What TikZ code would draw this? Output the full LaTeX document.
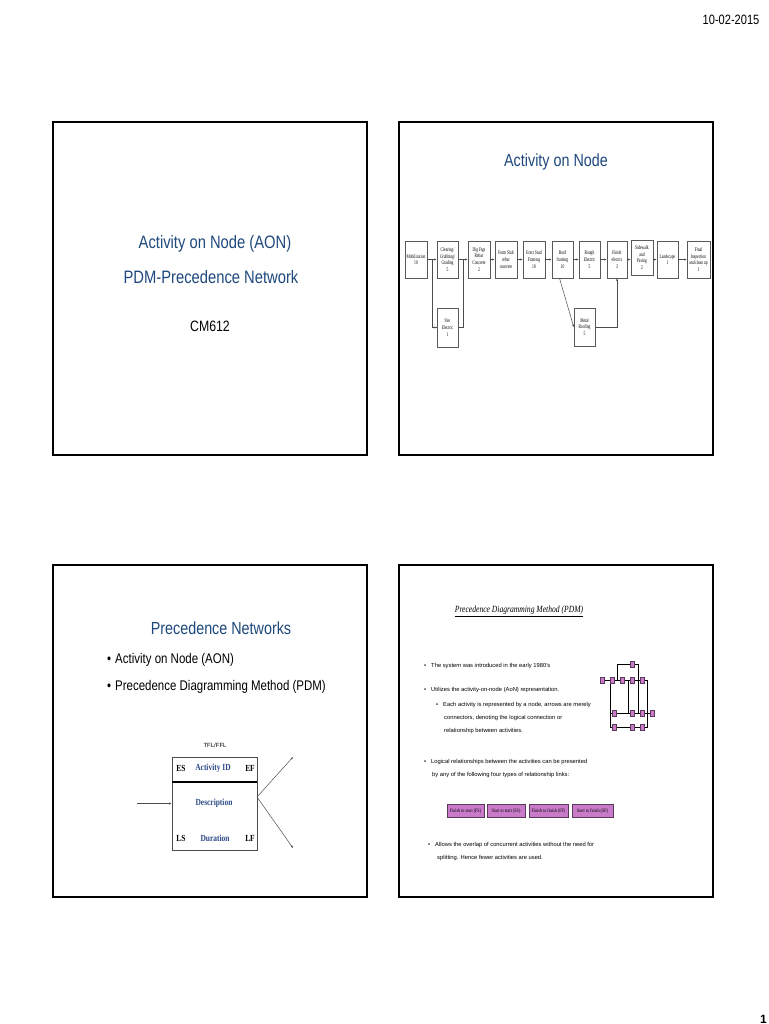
\documentclass[tikz,border=0pt]{standalone}
\usepackage{fontspec}
\setmainfont{Liberation Serif}
\newfontfamily\nsans[FakeStretch=0.82]{Liberation Sans}
\newfontfamily\rsans{Liberation Sans}
\newfontfamily\nserif[FakeStretch=0.8]{Liberation Serif}
\newfontfamily\tserif[FakeStretch=0.65]{Liberation Serif}
\usetikzlibrary{arrows.meta,calc}
\definecolor{ttlblue}{HTML}{1F497D}
\definecolor{boxblue}{HTML}{2B4A86}
\definecolor{pdmpurple}{HTML}{C97BC9}
\definecolor{pdmborder}{HTML}{5A3A5A}
\begin{document}
\begin{tikzpicture}[x=1pt,y=-1pt,
  slideframe/.style={draw=black,line width=1.3pt},
  ttl/.style={font=\nsans\fontsize{17.5}{21}\selectfont,text=ttlblue,inner sep=0pt},
  aon/.style={draw=gray!70!black,line width=0.5pt,fill=white,minimum width=21pt,minimum height=37pt,inner sep=0pt,align=center,font=\tserif\fontsize{5.6}{6.8}\selectfont},
  conn/.style={draw=gray!60!black,line width=0.5pt},
  arr/.style={conn,-{Latex[length=2.4pt,width=2.2pt]}},
  cell/.style={font=\nserif\bfseries\fontsize{9.3}{11}\selectfont,inner sep=0pt},
  bul/.style={anchor=west,inner sep=0pt,font=\nsans\fontsize{14}{16}\selectfont},
  small/.style={anchor=west,inner sep=0pt,font=\rsans\fontsize{5.8}{6.8}\selectfont},
  btn/.style={draw=pdmborder,fill=pdmpurple,line width=0.6pt,minimum height=13pt,inner sep=0pt,font=\nserif\fontsize{5.2}{6}\selectfont},
  mnode/.style={draw=pdmborder,fill=pdmpurple,line width=0.4pt,minimum width=4.5pt,minimum height=5.5pt,inner sep=0pt},
  mline/.style={draw=black,line width=0.6pt}
]
\useasboundingbox (0,0) rectangle (768,1024);
\fill[white] (0,0) rectangle (768,1024);

% header / footer
\node[font=\nsans\fontsize{13.5}{15}\selectfont,inner sep=0pt] (date) at (731,20) {10-02-2015};
\node[font=\rsans\bfseries\fontsize{12}{14}\selectfont,anchor=east,inner sep=0pt] (pg) at (767,1019) {1};

% slide frames
\draw[slideframe] (53,122) rectangle (367,455);
\draw[slideframe] (399,122) rectangle (713,455);
\draw[slideframe] (53,565) rectangle (367,897);
\draw[slideframe] (399,565) rectangle (713,897);

% ---------- slide 1
\node[ttl,font=\nsans\fontsize{18}{21}\selectfont] (t1a) at (215,244) {Activity on Node (AON)};
\node[ttl,font=\nsans\fontsize{18}{21}\selectfont] (t1b) at (211,277) {PDM-Precedence Network};
\node[font=\nsans\fontsize{15}{17}\selectfont,inner sep=0pt] (cm) at (210,326) {CM612};

% ---------- slide 2
\node[ttl] (t2) at (556,162) {Activity on Node};
\node[aon,minimum width=22pt] (mob) at (416,259.5) {Mobilization\\10};
\node[aon] (clr) at (447.5,259.5) {Clearing/\\Grubbing/\\Grading\\5};
\node[aon,minimum width=22pt] (dig) at (479,259.5) {Dig Ftgs\\Rebar\\Concrete\\2};
\node[aon,minimum width=22pt] (form) at (506,259.5) {Form Slab\\rebar\\concrete};
\node[aon,minimum width=22pt] (erect) at (534,259.5) {Erect Stud\\Framing\\10};
\node[aon] (roof) at (562.5,259.5) {Roof\\framing\\10};
\node[aon] (rough) at (589.5,259.5) {Rough\\Electric\\5};
\node[aon,minimum width=20pt] (fin) at (617,259.5) {Finish\\electric\\3};
\node[aon,minimum width=22pt,minimum height=35pt] (side) at (642,257.5) {Sidewalk\\and\\Paving\\2};
\node[aon] (land) at (667.5,259.5) {Landscape\\1};
\node[aon,minimum width=23pt] (final) at (698.5,259.5) {Final\\Inspection\\and clean up\\1};
\node[aon,minimum height=39pt] (site) at (447.5,327.5) {Site\\Electric\\1};
\node[aon,minimum height=38pt] (metal) at (584.5,327) {Metal\\Roofing\\5};

\coordinate (j1) at ($(mob.east)+(5,0)$);
\coordinate (j2) at ($(dig.west)+(-5,0)$);
\draw[arr] (mob) -- (clr);
\draw[conn] (j1) |- (site.west);
\draw[arr] (j1 |- site.west) -- (site.west);
\draw[arr] (clr) -- (dig);
\draw[conn] (site.east) -| (j2);
\draw[arr] (dig) -- (form);
\draw[arr] (form) -- (erect);
\draw[arr] (erect) -- (roof);
\draw[arr] (roof) -- (rough);
\draw[arr] (rough) -- (fin);
\draw[arr] (fin) -- (side.west |- fin.east);
\draw[arr] (side.east |- land.west) -- (land);
\draw[arr] (land) -- (final);
\draw[arr] ($(roof.south)+(-3,0)$) -- (metal.west);
\draw[arr] (metal.east) -| (fin.south);

% ---------- slide 3
\node[ttl] (t3) at (221,628) {Precedence Networks};
\node[bul] (b1) at (107,660) {•\hspace{4pt}Activity on Node (AON)};
\node[bul] (b2) at (107,687) {•\hspace{4pt}Precedence Diagramming Method (PDM)};
\node[font=\rsans\fontsize{6}{7}\selectfont,inner sep=0pt] (tfl) at (215,745) {TFL/FFL};
\node[draw=gray!60!black,line width=0.8pt,minimum width=85pt,minimum height=93pt,inner sep=0pt] (act) at (214.5,803.5) {};
\coordinate (dl) at (172,782);
\coordinate (dr) at (257,782);
\draw[line width=1.3pt] (dl) -- (dr);
\node[cell] (es) at (181,768) {ES};
\node[cell,text=boxblue] (aid) at (213,768) {Activity ID};
\node[cell] (ef) at (250,768) {EF};
\node[cell,text=boxblue] (desc) at (214,803) {Description};
\node[cell] (ls) at (181,838) {LS};
\node[cell,text=boxblue] (dur) at (215,838) {Duration};
\node[cell] (lf) at (250,838) {LF};
\coordinate (ain) at (137,803.5);
\draw[arr] (ain) -- (act.west);
\coordinate (ao) at (257,797);
\coordinate (aup) at (293,757);
\coordinate (adn) at (293,848);
\draw[arr] (ao) -- (aup);
\draw[arr] (ao) -- (adn);

% ---------- slide 4
\node[inner sep=0pt,font=\nserif\itshape\fontsize{9.5}{11}\selectfont] (t4) at (519,611) {\underline{Precedence Diagramming Method (PDM)}};
\node[small] (p1) at (424,666) {•\hspace{5pt}The system was introduced in the early 1980’s};
\node[small] (p2) at (424,690) {•\hspace{5pt}Utilizes the activity-on-node (AoN) representation.};
\node[small] (p3) at (436,705) {•\hspace{5pt}Each activity is represented by a node, arrows are merely};
\node[small] (p4) at (444,718) {connectors, denoting the logical connection or};
\node[small] (p5) at (444,731) {relationship between activities.};
\node[small] (p6) at (424,762) {•\hspace{5pt}Logical relationships between the activities can be presented};
\node[small] (p7) at (432,775) {by any of the following four types of relationship links:};
\node[small] (p8) at (428,845) {•\hspace{5pt}Allows the overlap of concurrent activities without the need for};
\node[small] (p9) at (437,858) {splitting. Hence fewer activities are used.};

\node[btn,minimum width=37pt] (fs) at (465.5,811) {Finish to start (FS)};
\node[btn,minimum width=38pt] (ss) at (506,811) {Start to start (SS)};
\node[btn,minimum width=39pt] (ff) at (548.5,811) {Finish to finish (FF)};
\node[btn,minimum width=41pt] (sf) at (592.5,811) {Start to finish (SF)};

% mini network
\coordinate (c1) at (617,664);
\coordinate (c2) at (638,664);
\coordinate (v1) at (610,680);
\coordinate (v2) at (628,680);
\coordinate (v3) at (638,680);
\coordinate (v4) at (647,680);
\draw[mline] (602,680) -- (642,680);
\draw[mline] (617,680) -- (c1) -- (632,664);
\draw[mline] (632,664) -- (c2) -- (v3);
\draw[mline] (v1) -- (610,727) -- (614,727);
\draw[mline] (610,713) -- (614,713);
\draw[mline] (v2) -- (628,713);
\draw[mline] (v3) -- (638,713);
\draw[mline] (642,680) -- (v4) -- (647,727) -- (642,727);
\draw[mline] (614,713) -- (652,713);
\draw[mline] (614,727) -- (642,727);
\node[mnode] (t) at (632,664) {};
\node[mnode] (r1a) at (602,680) {};
\node[mnode] (r1b) at (612,680) {};
\node[mnode] (r1c) at (622,680) {};
\node[mnode] (r1d) at (632,680) {};
\node[mnode] (r1e) at (642,680) {};
\node[mnode] (r2a) at (614,713) {};
\node[mnode] (r2b) at (632,713) {};
\node[mnode] (r2c) at (642,713) {};
\node[mnode] (r2d) at (652,713) {};
\node[mnode] (r3a) at (614,727) {};
\node[mnode] (r3b) at (632,727) {};
\node[mnode] (r3c) at (642,727) {};
\end{tikzpicture}
\end{document}
